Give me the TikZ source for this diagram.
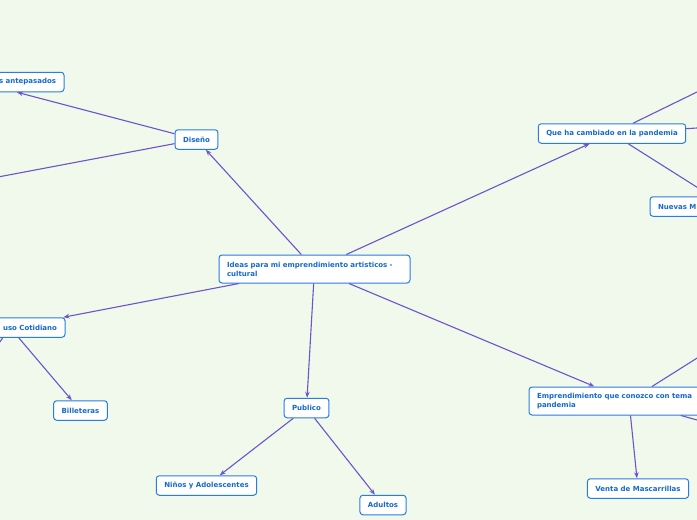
\documentclass[tikz,border=0pt]{standalone}
\usepackage{fontspec}
\usepackage{xcolor}
\usetikzlibrary{arrows.meta}
\newfontfamily\mapfont{DejaVu Sans}
\definecolor{mapbg}{RGB}{240,249,236}
\definecolor{ideaborder}{RGB}{40,125,225}
\definecolor{ideatext}{RGB}{20,105,205}
\definecolor{linkcolor}{RGB}{110,84,202}

\tikzset{
  idea/.style={draw=ideaborder, fill=white, line width=1pt, rounded corners=3pt,
    text=ideatext, font=\mapfont\bfseries\fontsize{7}{9}\selectfont,
    inner xsep=8pt, inner ysep=3pt, minimum height=19.5pt},
  twoline/.style={minimum height=28pt}
}

\begin{document}
\begin{tikzpicture}[x=1pt, y=-1pt, ->, >={Stealth[length=6pt,width=4.5pt]},
    every edge/.style={draw=linkcolor, line width=1.1pt}]

  \useasboundingbox (0,0) rectangle (697,520);
  \clip (0,0) rectangle (697,520);
  \fill[mapbg] (0,0) rectangle (697,520);

  % Ideas
  \node[idea, twoline, text width=175pt, align=left] (main) at (314.5,269)
    {Ideas para mi emprendimiento artisticos -\\cultural};
  \node[idea] (diseno) at (196.5,139.5) {Diseño};
  \node[idea, text width=156pt, align=right] (antepasados) at (-22,82) {s antepasados};
  \node[idea, text width=94pt, align=right] (cotidiano) at (10,327.5) {uso Cotidiano};
  \node[idea] (billeteras) at (80.5,410.5) {Billeteras};
  \node[idea] (publico) at (306.5,408) {Publico};
  \node[idea] (ninos) at (206.5,485.5) {Niños y Adolescentes};
  \node[idea] (adultos) at (383,505) {Adultos};
  \node[idea] (pandemia) at (612,133.5) {Que ha cambiado en la pandemia};
  \node[idea, text width=139pt, align=left] (nuevas) at (727.5,206.5) {Nuevas M};
  \node[idea, twoline, text width=184pt, align=left] (conozco) at (629,401)
    {Emprendimiento que conozco con tema\\pandemia};
  \node[idea] (mascarillas) at (638,488.5) {Venta de Mascarrillas};

  % Branches leaving the page
  \coordinate (disenoout) at (-20,180.4);
  \coordinate (cotidianoout) at (-20,370);
  \coordinate (pandemiaup) at (740,71);
  \coordinate (pandemiaright) at (740,125.2);
  \coordinate (conozcoup) at (740,331);
  \coordinate (conozcoright) at (740,432);

  % Links
  \path
    (main) edge (diseno)
    (main) edge (cotidiano)
    (main) edge (publico)
    (main) edge (pandemia)
    (main) edge (conozco)

    (diseno) edge (antepasados)
    (diseno) edge (disenoout)

    (cotidiano) edge (billeteras)
    (cotidiano) edge (cotidianoout)

    (publico) edge (ninos)
    (publico) edge (adultos)

    (pandemia) edge (pandemiaup)
    (pandemia) edge (pandemiaright)
    (pandemia) edge (nuevas)

    (conozco) edge (conozcoup)
    (conozco) edge (conozcoright)
    (conozco) edge (mascarillas);

\end{tikzpicture}
\end{document}
